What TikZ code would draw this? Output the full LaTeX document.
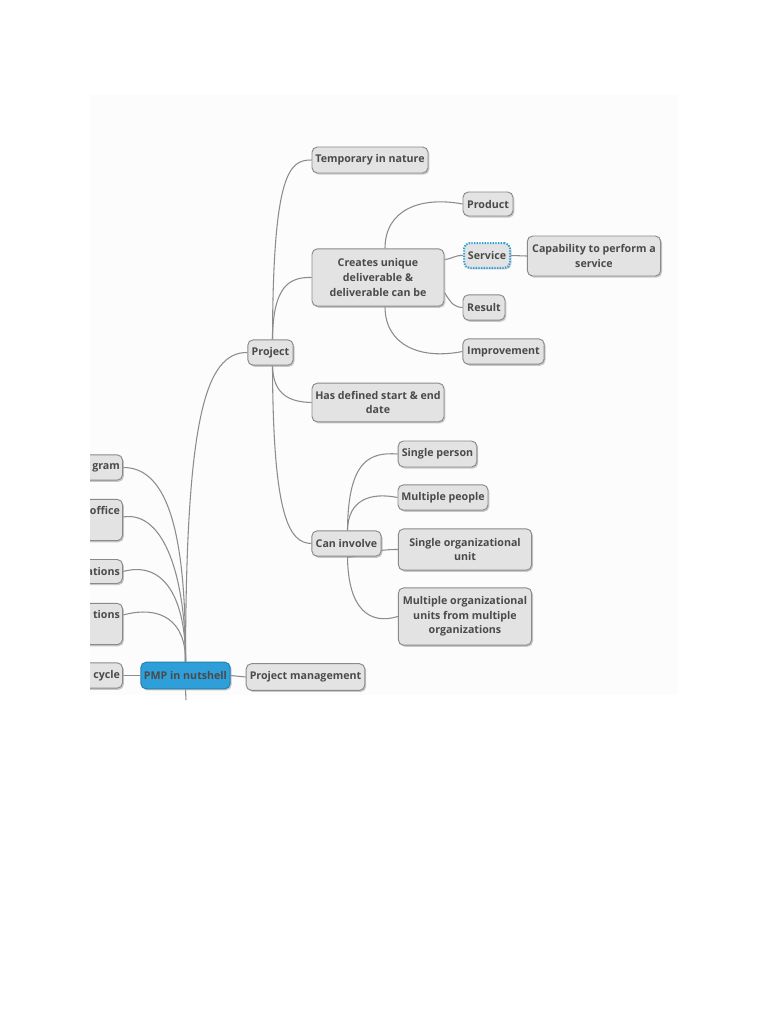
\documentclass[tikz,border=0pt]{standalone}
\usepackage{fontspec}
\setmainfont{Open Sans}
\usetikzlibrary{shadows,backgrounds}
\definecolor{boxfill}{HTML}{E3E3E3}
\definecolor{boxdraw}{HTML}{8A8A8A}
\definecolor{txt}{HTML}{4A4A4A}
\definecolor{pmp}{HTML}{2E9FD8}
\definecolor{lnk}{HTML}{8C8C8C}
\begin{document}
\begin{tikzpicture}[x=0.75pt,y=-0.75pt,
  box/.style={draw=boxdraw,fill=boxfill,rounded corners=4pt,line width=0.7pt,
    font=\fontsize{8}{11}\selectfont\bfseries,text=txt,align=center,
    inner sep=0pt,drop shadow={shadow xshift=1pt,shadow yshift=-1.2pt,fill=black!35,opacity=0.6}},
  lk/.style={draw=lnk,line width=0.8pt}]
\useasboundingbox (0,0) rectangle (768,1024);
\begin{scope}
\clip (90,95) rectangle (678,695);
\node[box,minimum width=87pt,minimum height=19.5pt] (tmp) at (370,160) {Temporary in nature};
\node[box,minimum width=34pt,minimum height=19pt] (proj) at (270.5,352.5) {Project};
\node[box,minimum width=99pt,minimum height=43pt] (cre) at (378,277.5) {Creates unique\\deliverable \&\\deliverable can be};
\node[box,minimum width=37.5pt,minimum height=18pt] (prod) at (488,204) {Product};
\node[box,minimum width=34.5pt,minimum height=18.5pt,draw=pmp,dash pattern=on 1pt off 1pt,line width=1.5pt] (serv) at (487,255.5) {Service};
\node[box,minimum width=100pt,minimum height=30pt] (cap) at (594,256) {Capability to perform a\\service};
\node[box,minimum width=31.5pt,minimum height=19pt] (res) at (484,307.5) {Result};
\node[box,minimum width=61pt,minimum height=19pt] (imp) at (503.5,351.5) {Improvement};
\node[box,minimum width=99pt,minimum height=29pt] (has) at (378,402.5) {Has defined start \& end\\date};
\node[box,minimum width=52pt,minimum height=19pt] (can) at (346.5,543.5) {Can involve};
\node[box,minimum width=59pt,minimum height=19.5pt] (sp) at (437.5,454) {Single person};
\node[box,minimum width=67.5pt,minimum height=19pt] (mp) at (443,497.5) {Multiple people};
\node[box,minimum width=100pt,minimum height=31pt] (sou) at (465,549.5) {Single organizational\\unit};
\node[box,minimum width=100pt,minimum height=43pt] (mou) at (465,616.5) {Multiple organizational\\units from multiple\\organizations};
\node[box,minimum width=89pt,minimum height=20pt] (pm) at (305.5,677) {Project management};
\node[box,minimum width=67pt,minimum height=20pt,fill=pmp,draw=pmp!80!black] (pmp) at (185.5,675.5) {PMP in nutshell};
\node[box,minimum width=60pt,minimum height=19pt,anchor=east,text width=56pt,align=right] (l1) at (123,467.5) {gram};
\node[box,minimum width=60pt,minimum height=31pt,anchor=east,text width=56pt,align=right] (l2) at (123,520) {\vphantom{o}office\\\strut};
\node[box,minimum width=60pt,minimum height=18pt,anchor=east,text width=56pt,align=right] (l3) at (123,571.5) {ations};
\node[box,minimum width=60pt,minimum height=31pt,anchor=east,text width=56pt,align=right] (l4) at (123,624) {tions\\\strut};
\node[box,minimum width=60pt,minimum height=19pt,anchor=east,text width=56pt,align=right] (l5) at (123,675.5) {cycle};
\coordinate (bot) at (186,700);
\coordinate (l2e) at (123,517);
\coordinate (l4e) at (123,615);
\begin{pgfonlayer}{background}
\fill[white] (0,0) rectangle (768,1024);
\fill[black!1.2] (90,95) rectangle (678,695);
\draw[lk] (pmp.north) .. controls (186,420) and (205,352) .. (proj.west);
\draw[lk] (l1.east) .. controls (170,467) and (186,540) .. (pmp.north);
\draw[lk] (l2e) .. controls (165,510) and (186,580) .. (pmp.north);
\draw[lk] (l3.east) .. controls (165,560) and (186,600) .. (pmp.north);
\draw[lk] (l4e) .. controls (160,605) and (186,620) .. (pmp.north);
\draw[lk] (l5.east) -- (pmp.west);
\draw[lk] (pmp.east) -- (pm.west);
\draw[lk] (pmp.south) -- (bot);
\path (proj.south) ++(2,0) coordinate (ps) (proj.north) ++(2,0) coordinate (pn);
\draw[lk] (pn) .. controls (273,170) and (290,160) .. (tmp.west);
\draw[lk] (pn) .. controls (273,285) and (290,277) .. (cre.west);
\draw[lk] (ps) .. controls (273,395) and (290,402) .. (has.west);
\draw[lk] (ps) .. controls (273,520) and (290,543) .. (can.west);
\path (cre.north) ++(7,0) coordinate (cn) (cre.south) ++(7,0) coordinate (cs);
\draw[lk] (cn) .. controls (385,210) and (420,196) .. (prod.west);
\draw[lk] (cs) .. controls (385,345) and (420,360) .. (imp.west);
\draw[lk] (cre.east) ++(0,-18) coordinate (ce1) .. controls (452,259) and (455,255) .. (serv.west);
\draw[lk] (cre.east) ++(0,15) coordinate (ce2) .. controls (452,305) and (455,307) .. (res.west);
\draw[lk] (serv.east) -- (cap.west);
\path (can.north) ++(1,0) coordinate (kn) (can.south) ++(1,0) coordinate (ks);
\draw[lk] (kn) .. controls (348,460) and (370,452) .. (sp.west);
\draw[lk] (kn) .. controls (348,500) and (370,492) .. (mp.west);
\draw[lk] (ks) .. controls (348,560) and (370,549) .. (sou.west);
\draw[lk] (ks) .. controls (348,610) and (370,625) .. (mou.west);
\end{pgfonlayer}
\end{scope}
\end{tikzpicture}
\end{document}
